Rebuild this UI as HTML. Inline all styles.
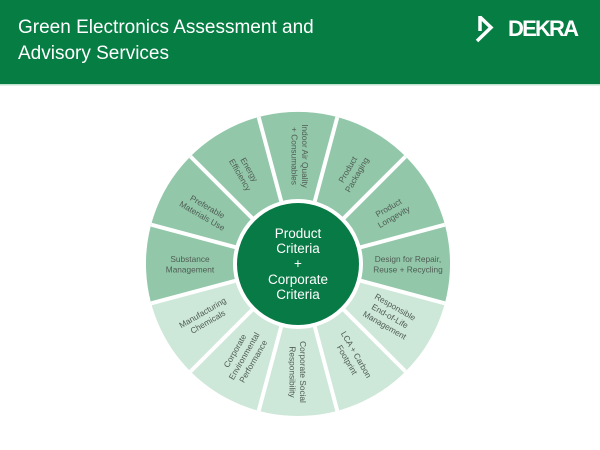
<!DOCTYPE html>
<html><head><meta charset="utf-8"><style>
html,body{margin:0;padding:0;background:#fff;}
body{width:600px;height:450px;overflow:hidden;position:relative;font-family:"Liberation Sans",sans-serif;}
</style></head><body>
<svg width="600" height="450" viewBox="0 0 600 450" xmlns="http://www.w3.org/2000/svg" style="position:absolute;left:0;top:0">
<rect x="0" y="0" width="600" height="84" fill="#067d43"/>
<rect x="0" y="84" width="600" height="1.5" fill="#bfe3cf"/>
<g font-family="Liberation Sans, sans-serif" fill="#fff" font-size="19">
<text x="18" y="33">Green Electronics Assessment and</text>
<text x="18" y="59">Advisory Services</text>
</g>
<path d="M480,16 L480,31 M480,17 L491,27.5 L477,41" fill="none" stroke="#fff" stroke-width="3.5" stroke-linejoin="miter"/>
<text x="508" y="36" font-family="Liberation Sans, sans-serif" font-weight="bold" font-size="22" fill="#fff" textLength="71">DEKRA</text>

<circle cx="298" cy="264" r="152" fill="#cde7d8"/>
<path d="M298,264 L151.2,303.3 A152,152 0 1 1 444.8,303.3 Z" fill="#92c7a9"/>
<g stroke="#fff" stroke-width="4">
<line x1="444.8" y1="303.3" x2="151.2" y2="224.7"/>
<line x1="405.5" y1="371.5" x2="190.5" y2="156.5"/>
<line x1="337.3" y1="410.8" x2="258.7" y2="117.2"/>
<line x1="258.7" y1="410.8" x2="337.3" y2="117.2"/>
<line x1="190.5" y1="371.5" x2="405.5" y2="156.5"/>
<line x1="151.2" y1="303.3" x2="444.8" y2="224.7"/>
</g>
<circle cx="298" cy="264" r="63" fill="#087a45" stroke="#fff" stroke-width="4"/>
<g font-family="Liberation Sans, sans-serif" fill="#fff" font-size="13.5" text-anchor="middle">
<text x="298" y="238">Product</text>
<text x="298" y="253">Criteria</text>
<text x="298" y="268">+</text>
<text x="298" y="284">Corporate</text>
<text x="298" y="299">Criteria</text>
</g>
<g font-family="Liberation Sans, sans-serif" fill="#4f5c54" font-size="8.3" text-anchor="middle">
<text transform="translate(300,156) rotate(90)"><tspan x="0" dy="-2">Indoor Air Quality</tspan><tspan x="0" dy="10.5">+ Consumables</tspan></text>
<text transform="translate(352,172) rotate(-60)"><tspan x="0" dy="-2">Product</tspan><tspan x="0" dy="10.5">Packaging</tspan></text>
<text transform="translate(391,212) rotate(-30)"><tspan x="0" dy="-2">Product</tspan><tspan x="0" dy="10.5">Longevity</tspan></text>
<text transform="translate(408,264) rotate(0)"><tspan x="0" dy="-2">Design for Repair,</tspan><tspan x="0" dy="10.5">Reuse + Recycling</tspan></text>
<text transform="translate(390,316) rotate(30)"><tspan x="0" dy="-7.5">Responsible</tspan><tspan x="0" dy="10.5">End-of-Life</tspan><tspan x="0" dy="10.5">Management</tspan></text>
<text transform="translate(352,357) rotate(60)"><tspan x="0" dy="-2">LCA + Carbon</tspan><tspan x="0" dy="10.5">Footprint</tspan></text>
<text transform="translate(298,372) rotate(90)"><tspan x="0" dy="-2">Corporate Social</tspan><tspan x="0" dy="10.5">Responsibility</tspan></text>
<text transform="translate(244,356) rotate(-60)"><tspan x="0" dy="-7.5">Corporate</tspan><tspan x="0" dy="10.5">Environmental</tspan><tspan x="0" dy="10.5">Performance</tspan></text>
<text transform="translate(205,317) rotate(-30)"><tspan x="0" dy="-2">Manufacturing</tspan><tspan x="0" dy="10.5">Chemicals</tspan></text>
<text transform="translate(190,264) rotate(0)"><tspan x="0" dy="-2">Substance</tspan><tspan x="0" dy="10.5">Management</tspan></text>
<text transform="translate(205,211) rotate(30)"><tspan x="0" dy="-2">Preferable</tspan><tspan x="0" dy="10.5">Materials Use</tspan></text>
<text transform="translate(245,172) rotate(60)"><tspan x="0" dy="-2">Energy</tspan><tspan x="0" dy="10.5">Efficiency</tspan></text>
</g>
</svg>
</body></html>
